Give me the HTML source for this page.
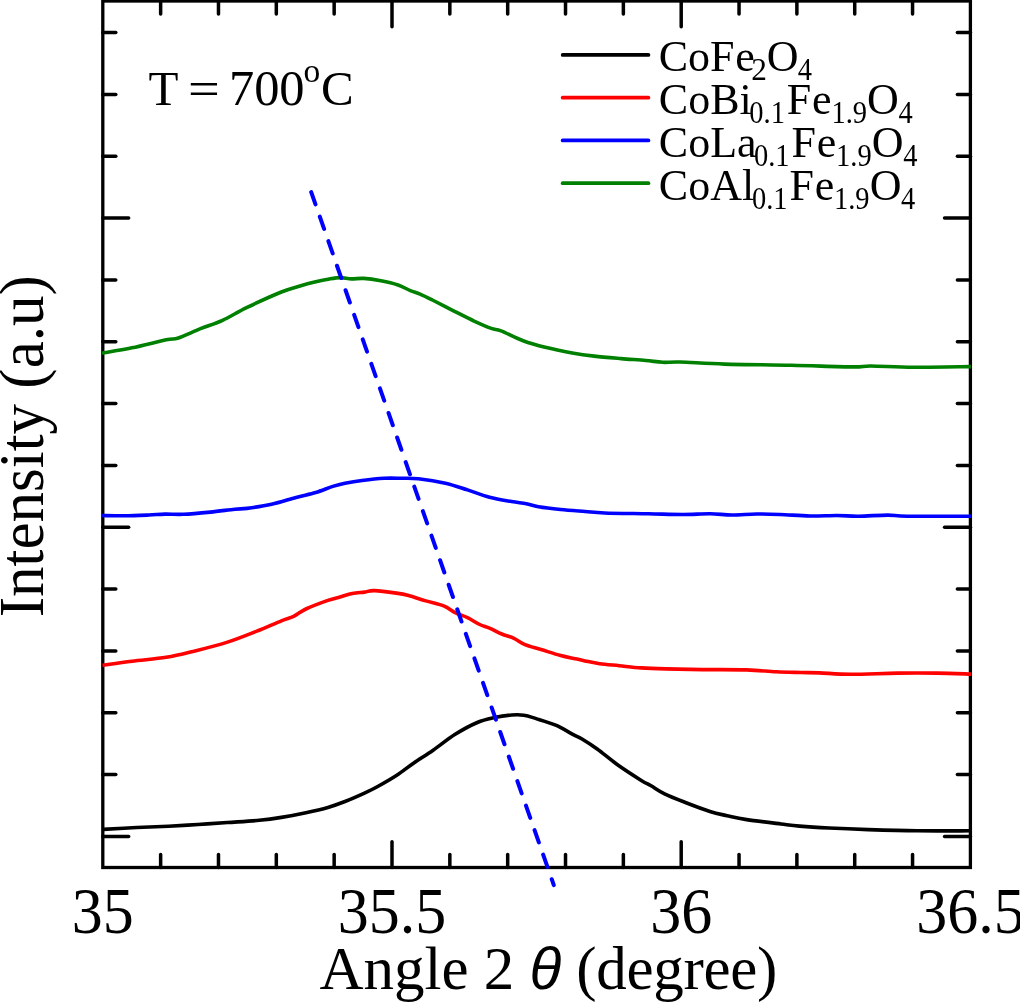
<!DOCTYPE html>
<html lang="en"><head><meta charset="utf-8"><title>XRD peak shift</title>
<style>html,body{margin:0;padding:0;background:#fff;}body{width:1020px;height:1002px;overflow:hidden;}svg{display:block;}text{font-family:"Liberation Serif",serif;fill:#000;font-kerning:none;}.th{font-family:"Liberation Sans",sans-serif;font-style:italic;}</style></head><body>
<svg width="1020" height="1002" viewBox="0 0 1020 1002">
<rect x="0" y="0" width="1020" height="1002" fill="#fff"/>
<g stroke="#000" stroke-width="3.50" stroke-linecap="round" fill="none">
<line x1="160.64" y1="867.50" x2="160.64" y2="854.50"/>
<line x1="160.64" y1="1.00" x2="160.64" y2="14.00"/>
<line x1="218.48" y1="867.50" x2="218.48" y2="854.50"/>
<line x1="218.48" y1="1.00" x2="218.48" y2="14.00"/>
<line x1="276.32" y1="867.50" x2="276.32" y2="854.50"/>
<line x1="276.32" y1="1.00" x2="276.32" y2="14.00"/>
<line x1="334.16" y1="867.50" x2="334.16" y2="854.50"/>
<line x1="334.16" y1="1.00" x2="334.16" y2="14.00"/>
<line x1="392.00" y1="867.50" x2="392.00" y2="841.65"/>
<line x1="392.00" y1="1.00" x2="392.00" y2="26.85"/>
<line x1="449.84" y1="867.50" x2="449.84" y2="854.50"/>
<line x1="449.84" y1="1.00" x2="449.84" y2="14.00"/>
<line x1="507.68" y1="867.50" x2="507.68" y2="854.50"/>
<line x1="507.68" y1="1.00" x2="507.68" y2="14.00"/>
<line x1="565.52" y1="867.50" x2="565.52" y2="854.50"/>
<line x1="565.52" y1="1.00" x2="565.52" y2="14.00"/>
<line x1="623.36" y1="867.50" x2="623.36" y2="854.50"/>
<line x1="623.36" y1="1.00" x2="623.36" y2="14.00"/>
<line x1="681.20" y1="867.50" x2="681.20" y2="841.65"/>
<line x1="681.20" y1="1.00" x2="681.20" y2="26.85"/>
<line x1="739.04" y1="867.50" x2="739.04" y2="854.50"/>
<line x1="739.04" y1="1.00" x2="739.04" y2="14.00"/>
<line x1="796.88" y1="867.50" x2="796.88" y2="854.50"/>
<line x1="796.88" y1="1.00" x2="796.88" y2="14.00"/>
<line x1="854.72" y1="867.50" x2="854.72" y2="854.50"/>
<line x1="854.72" y1="1.00" x2="854.72" y2="14.00"/>
<line x1="912.56" y1="867.50" x2="912.56" y2="854.50"/>
<line x1="912.56" y1="1.00" x2="912.56" y2="14.00"/>
<line x1="102.80" y1="836.40" x2="128.65" y2="836.40"/>
<line x1="970.40" y1="836.40" x2="944.55" y2="836.40"/>
<line x1="102.80" y1="774.57" x2="115.80" y2="774.57"/>
<line x1="970.40" y1="774.57" x2="957.40" y2="774.57"/>
<line x1="102.80" y1="712.74" x2="115.80" y2="712.74"/>
<line x1="970.40" y1="712.74" x2="957.40" y2="712.74"/>
<line x1="102.80" y1="650.91" x2="115.80" y2="650.91"/>
<line x1="970.40" y1="650.91" x2="957.40" y2="650.91"/>
<line x1="102.80" y1="589.08" x2="115.80" y2="589.08"/>
<line x1="970.40" y1="589.08" x2="957.40" y2="589.08"/>
<line x1="102.80" y1="527.25" x2="128.65" y2="527.25"/>
<line x1="970.40" y1="527.25" x2="944.55" y2="527.25"/>
<line x1="102.80" y1="465.42" x2="115.80" y2="465.42"/>
<line x1="970.40" y1="465.42" x2="957.40" y2="465.42"/>
<line x1="102.80" y1="403.59" x2="115.80" y2="403.59"/>
<line x1="970.40" y1="403.59" x2="957.40" y2="403.59"/>
<line x1="102.80" y1="341.76" x2="115.80" y2="341.76"/>
<line x1="970.40" y1="341.76" x2="957.40" y2="341.76"/>
<line x1="102.80" y1="279.93" x2="115.80" y2="279.93"/>
<line x1="970.40" y1="279.93" x2="957.40" y2="279.93"/>
<line x1="102.80" y1="218.10" x2="128.65" y2="218.10"/>
<line x1="970.40" y1="218.10" x2="944.55" y2="218.10"/>
<line x1="102.80" y1="156.27" x2="115.80" y2="156.27"/>
<line x1="970.40" y1="156.27" x2="957.40" y2="156.27"/>
<line x1="102.80" y1="94.44" x2="115.80" y2="94.44"/>
<line x1="970.40" y1="94.44" x2="957.40" y2="94.44"/>
<line x1="102.80" y1="32.61" x2="115.80" y2="32.61"/>
<line x1="970.40" y1="32.61" x2="957.40" y2="32.61"/>
</g>
<rect x="102.80" y="1.00" width="867.60" height="866.50" fill="none" stroke="#000" stroke-width="3.30"/>
<g fill="none" stroke-width="3.60" stroke-linejoin="round" stroke-linecap="butt">
<path stroke="#000000" d="M103.00 829.40 C108.63 829.08 125.87 828.03 136.80 827.50 C147.73 826.97 158.40 826.70 168.60 826.20 C178.80 825.70 188.18 825.12 198.00 824.50 C207.82 823.88 217.28 823.20 227.50 822.50 C237.72 821.80 250.32 821.15 259.30 820.30 C268.28 819.45 273.63 818.67 281.40 817.40 C289.17 816.13 298.15 814.37 305.90 812.70 C313.65 811.03 321.38 809.27 327.90 807.40 C334.42 805.53 338.90 803.88 345.00 801.50 C351.10 799.12 359.20 795.52 364.50 793.10 C369.80 790.68 371.48 789.93 376.80 787.00 C382.12 784.07 390.28 779.47 396.40 775.50 C402.52 771.53 407.38 767.42 413.50 763.20 C419.62 758.98 426.15 755.02 433.10 750.20 C440.05 745.38 447.83 738.92 455.20 734.30 C462.57 729.68 470.77 725.28 477.30 722.50 C483.83 719.72 488.68 718.85 494.40 717.60 C500.12 716.35 506.70 715.40 511.60 715.00 C516.50 714.60 519.72 714.60 523.80 715.20 C527.88 715.80 530.78 716.93 536.10 718.60 C541.42 720.27 549.58 722.58 555.70 725.20 C561.82 727.82 568.42 732.00 572.80 734.30 C577.18 736.60 577.93 736.55 582.00 739.00 C586.07 741.45 591.40 744.80 597.20 749.00 C603.00 753.20 609.45 758.97 616.80 764.20 C624.15 769.43 635.58 776.80 641.30 780.40 C647.02 784.00 647.22 783.55 651.10 785.80 C654.98 788.05 658.88 791.12 664.60 793.90 C670.32 796.68 677.85 799.57 685.40 802.50 C692.95 805.43 702.95 809.30 709.90 811.50 C716.85 813.70 720.97 814.35 727.10 815.70 C733.23 817.05 737.72 818.22 746.70 819.60 C755.68 820.98 772.18 822.92 781.00 824.00 C789.82 825.08 791.60 825.43 799.60 826.10 C807.60 826.77 817.57 827.42 829.00 828.00 C840.43 828.58 853.48 829.13 868.20 829.60 C882.92 830.07 900.27 830.60 917.30 830.80 C934.33 831.00 961.55 830.80 970.40 830.80"/>
<path stroke="#ff0000" d="M102.50 665.40 C107.40 664.70 121.28 662.55 131.90 661.20 C142.52 659.85 156.00 658.93 166.20 657.30 C176.40 655.67 182.88 653.93 193.10 651.40 C203.32 648.87 216.87 645.48 227.50 642.10 C238.13 638.72 247.92 634.65 256.90 631.10 C265.88 627.55 275.28 623.25 281.40 620.80 C287.52 618.35 289.52 618.37 293.60 616.40 C297.68 614.43 300.18 611.67 305.90 609.00 C311.62 606.33 322.22 602.40 327.90 600.40 C333.58 598.40 335.93 598.13 340.00 597.00 C344.07 595.87 348.22 594.42 352.30 593.60 C356.38 592.78 360.83 592.60 364.50 592.10 C368.17 591.60 368.98 590.43 374.30 590.60 C379.62 590.77 390.68 592.28 396.40 593.10 C402.12 593.92 403.70 594.20 408.60 595.50 C413.50 596.80 419.87 599.13 425.80 600.90 C431.73 602.67 439.30 604.13 444.20 606.10 C449.10 608.07 451.32 610.78 455.20 612.70 C459.08 614.62 463.42 615.63 467.50 617.60 C471.58 619.57 476.03 622.75 479.70 624.50 C483.37 626.25 485.82 626.52 489.50 628.10 C493.18 629.68 497.72 632.28 501.80 634.00 C505.88 635.72 510.13 636.63 514.00 638.40 C517.87 640.17 520.50 642.75 525.00 644.60 C529.50 646.45 535.07 647.67 541.00 649.50 C546.93 651.33 554.88 654.05 560.60 655.60 C566.32 657.15 571.23 657.92 575.30 658.80 C579.37 659.68 580.95 660.08 585.00 660.90 C589.05 661.72 593.90 662.90 599.60 663.70 C605.30 664.50 612.25 665.00 619.20 665.70 C626.15 666.40 633.53 667.37 641.30 667.90 C649.07 668.43 655.60 668.62 665.80 668.90 C676.00 669.18 689.02 669.43 702.50 669.60 C715.98 669.77 734.43 669.53 746.70 669.90 C758.97 670.27 767.12 671.37 776.10 671.80 C785.08 672.23 793.42 672.32 800.60 672.50 C807.78 672.68 810.87 672.60 819.20 672.90 C827.53 673.20 837.53 674.27 850.60 674.30 C863.67 674.33 883.22 673.30 897.60 673.10 C911.98 672.90 924.63 672.93 936.90 673.10 C949.17 673.27 965.48 673.93 971.20 674.10"/>
<path stroke="#0000ff" d="M102.00 515.50 C105.75 515.55 116.67 515.88 124.50 515.80 C132.33 515.72 142.25 515.28 149.00 515.00 C155.75 514.72 159.28 514.22 165.00 514.10 C170.72 513.98 175.75 514.63 183.30 514.30 C190.85 513.97 201.72 512.95 210.30 512.10 C218.88 511.25 228.67 509.82 234.80 509.20 C240.93 508.58 240.97 509.22 247.10 508.40 C253.23 507.58 263.43 506.13 271.60 504.30 C279.77 502.47 288.75 499.37 296.10 497.40 C303.45 495.43 309.58 494.33 315.70 492.50 C321.82 490.67 327.92 487.93 332.80 486.40 C337.68 484.87 340.13 484.28 345.00 483.30 C349.87 482.32 355.48 481.33 362.00 480.50 C368.52 479.67 377.55 478.67 384.10 478.30 C390.65 477.93 395.58 478.22 401.30 478.30 C407.02 478.38 411.05 477.98 418.40 478.80 C425.75 479.62 437.22 481.35 445.40 483.20 C453.58 485.05 460.15 487.57 467.50 489.90 C474.85 492.23 482.15 495.25 489.50 497.20 C496.85 499.15 505.47 500.50 511.60 501.60 C517.73 502.70 521.82 502.93 526.30 503.80 C530.78 504.67 532.78 505.85 538.50 506.80 C544.22 507.75 552.85 508.72 560.60 509.50 C568.35 510.28 577.68 510.92 585.00 511.50 C592.32 512.08 593.90 512.62 604.50 513.00 C615.10 513.38 635.53 513.55 648.60 513.80 C661.67 514.05 672.68 514.50 682.90 514.50 C693.12 514.50 701.72 513.72 709.90 513.80 C718.08 513.88 724.23 514.97 732.00 515.00 C739.77 515.03 748.50 514.08 756.50 514.00 C764.50 513.92 771.08 514.17 780.00 514.50 C788.92 514.83 800.52 515.83 810.00 516.00 C819.48 516.17 828.83 515.47 836.90 515.50 C844.97 515.53 849.92 516.27 858.40 516.20 C866.88 516.13 879.62 515.10 887.80 515.10 C895.98 515.10 893.60 516.00 907.50 516.20 C921.40 516.40 960.58 516.28 971.20 516.30"/>
<path stroke="#008000" d="M102.00 353.20 C106.98 352.30 121.20 350.03 131.90 347.80 C142.60 345.57 158.45 341.43 166.20 339.80 C173.95 338.17 172.68 339.85 178.40 338.00 C184.12 336.15 193.15 331.63 200.50 328.70 C207.85 325.77 214.73 323.95 222.50 320.40 C230.27 316.85 237.28 312.13 247.10 307.40 C256.92 302.67 272.58 295.57 281.40 292.00 C290.22 288.43 294.45 287.67 300.00 286.00 C305.55 284.33 309.80 283.18 314.70 282.00 C319.60 280.82 325.12 279.63 329.40 278.90 C333.68 278.17 336.72 277.60 340.40 277.60 C344.08 277.60 347.62 278.77 351.50 278.90 C355.38 279.03 358.80 278.08 363.70 278.40 C368.60 278.72 375.18 279.70 380.90 280.80 C386.62 281.90 393.10 283.37 398.00 285.00 C402.90 286.63 406.62 289.08 410.30 290.60 C413.98 292.12 416.42 292.53 420.10 294.10 C423.78 295.67 426.67 297.13 432.40 300.00 C438.13 302.87 447.55 307.78 454.50 311.30 C461.45 314.82 467.97 318.25 474.10 321.10 C480.23 323.95 486.80 326.77 491.30 328.40 C495.80 330.03 495.80 328.85 501.10 330.90 C506.40 332.95 515.75 337.97 523.10 340.70 C530.45 343.43 537.02 345.27 545.20 347.30 C553.38 349.33 564.03 351.43 572.20 352.90 C580.37 354.37 586.03 355.15 594.20 356.10 C602.37 357.05 612.62 357.87 621.20 358.60 C629.78 359.33 638.77 359.88 645.70 360.50 C652.63 361.12 657.08 362.05 662.80 362.30 C668.52 362.55 669.68 361.70 680.00 362.00 C690.32 362.30 706.10 363.55 724.70 364.10 C743.30 364.65 770.32 364.83 791.60 365.30 C812.88 365.77 839.23 366.78 852.40 366.90 C865.57 367.02 860.47 365.95 870.60 366.00 C880.73 366.05 896.48 367.10 913.20 367.20 C929.92 367.30 961.28 366.70 970.90 366.60"/>
</g>
<line x1="311.2" y1="192.1" x2="553.8" y2="885.1" stroke="#0000ff" stroke-width="4" stroke-linecap="round" stroke-dasharray="13 13"/>
<g stroke-width="3.8" fill="none" stroke-linecap="round">
<line x1="562.7" y1="54.9" x2="648.4" y2="54.9" stroke="#000000"/>
<line x1="562.7" y1="97.7" x2="648.4" y2="97.7" stroke="#ff0000"/>
<line x1="562.7" y1="140.4" x2="648.4" y2="140.4" stroke="#0000ff"/>
<line x1="562.7" y1="183.2" x2="648.4" y2="183.2" stroke="#008000"/>
</g>
<text transform="translate(658.70 71.00) scale(1.000 1.010)" font-size="44">CoF</text><text transform="translate(735.30 71.00) scale(1.000 1.010)" font-size="44">e</text><text transform="translate(751.20 80.00) scale(1.100 1.110)" font-size="28.5">2</text><text transform="translate(766.70 71.00) scale(1.000 1.010)" font-size="44">O</text><text transform="translate(797.70 80.00) scale(1.000 1.110)" font-size="28.5">4</text>
<text transform="translate(658.80 114.00) scale(1.000 1.010)" font-size="44">CoBi</text><text transform="translate(749.30 123.00) scale(1.000 1.110)" font-size="28.5">0.1</text><text transform="translate(786.80 114.00) scale(1.000 1.010)" font-size="44">F</text><text transform="translate(812.10 114.00) scale(1.000 1.010)" font-size="44">e</text><text transform="translate(831.40 123.00) scale(1.000 1.110)" font-size="28.5">1.9</text><text transform="translate(867.10 114.00) scale(1.000 1.010)" font-size="44">O</text><text transform="translate(898.50 123.00) scale(1.000 1.110)" font-size="28.5">4</text>
<text transform="translate(658.80 157.00) scale(1.000 1.010)" font-size="44">CoLa</text><text transform="translate(754.00 166.00) scale(1.000 1.110)" font-size="28.5">0.1</text><text transform="translate(791.50 157.00) scale(1.000 1.010)" font-size="44">F</text><text transform="translate(816.80 157.00) scale(1.000 1.010)" font-size="44">e</text><text transform="translate(836.10 166.00) scale(1.000 1.110)" font-size="28.5">1.9</text><text transform="translate(871.80 157.00) scale(1.000 1.010)" font-size="44">O</text><text transform="translate(903.20 166.00) scale(1.000 1.110)" font-size="28.5">4</text>
<text transform="translate(658.80 200.00) scale(1.000 1.010)" font-size="44">CoAl</text><text transform="translate(751.90 209.00) scale(1.000 1.110)" font-size="28.5">0.1</text><text transform="translate(789.40 200.00) scale(1.000 1.010)" font-size="44">F</text><text transform="translate(814.70 200.00) scale(1.000 1.010)" font-size="44">e</text><text transform="translate(834.00 209.00) scale(1.000 1.110)" font-size="28.5">1.9</text><text transform="translate(869.70 200.00) scale(1.000 1.010)" font-size="44">O</text><text transform="translate(901.10 209.00) scale(1.000 1.110)" font-size="28.5">4</text>
<text x="148.5" y="105.4" font-size="49">T</text>
<text transform="translate(188.05 105.4) scale(1.15 1)" font-size="49">=</text>
<text transform="translate(228.9 105.4) scale(1.03 1.03)" font-size="49">700</text>
<text x="303.6" y="82" font-size="33.5">o</text>
<text x="320.9" y="105.4" font-size="49">C</text>
<text transform="translate(102.8 932.6) scale(1 1.045)" font-size="62" text-anchor="middle">35</text>
<text transform="translate(392.0 932.6) scale(1 1.045)" font-size="62" text-anchor="middle">35.5</text>
<text transform="translate(681.2 932.6) scale(1 1.045)" font-size="62" text-anchor="middle">36</text>
<text transform="translate(970.4 932.6) scale(1 1.045)" font-size="62" text-anchor="middle">36.5</text>
<text x="319.5" y="988.8" font-size="61">Angle 2 <tspan class="th" font-size="58.5">θ</tspan><tspan letter-spacing="-0.3"> (degree)</tspan></text>
<text transform="translate(42.9 617.3) rotate(-90) scale(1 1.025)" font-size="61">Intensity (a.u)</text>
</svg></body></html>
